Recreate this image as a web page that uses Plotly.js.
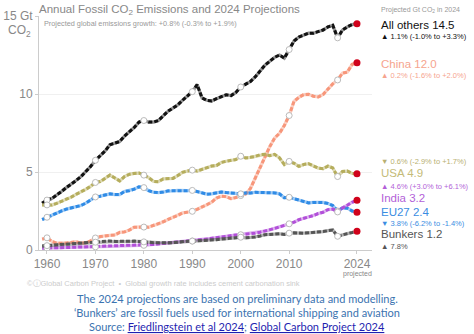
<!DOCTYPE html>
<html><head><meta charset="utf-8">
<script src="https://cdn.plot.ly/plotly-3.0.1.min.js"></script>
<style>html,body{margin:0;padding:0;background:#fff}#c{width:474px;height:334px}</style>
</head><body><div id="c"></div>
<script>
const years = [];
for (let y = 1959; y <= 2024; y++) years.push(y);

const allOthers = [3.0,3.2,3.3,3.5,3.75,4.0,4.2,4.45,4.7,5.0,5.35,5.75,6.05,6.35,6.75,6.85,6.95,7.3,7.55,7.85,8.2,8.3,8.2,8.2,8.3,8.6,8.9,9.1,9.3,9.6,9.9,10.15,10.6,9.75,9.6,9.55,9.7,9.85,9.95,9.9,10.1,10.45,10.6,10.8,11.1,11.5,11.85,12.1,12.35,12.5,12.3,12.85,13.4,13.65,13.8,13.9,13.9,14.0,14.1,14.3,14.4,13.6,14.1,14.3,14.45,14.5];
const china = [0.7,0.78,0.55,0.44,0.44,0.44,0.49,0.53,0.44,0.47,0.58,0.77,0.86,0.91,0.94,0.96,1.13,1.16,1.28,1.46,1.48,1.47,1.46,1.58,1.66,1.81,1.96,2.07,2.21,2.38,2.42,2.48,2.61,2.73,2.9,3.07,3.33,3.45,3.42,3.29,3.36,3.49,3.59,3.94,4.63,5.32,6.0,6.63,7.18,7.48,7.98,8.62,9.53,9.78,9.96,9.98,9.86,9.81,9.97,10.34,10.65,10.9,11.34,11.4,11.9,12.0];
const usa = [2.89,2.89,2.88,2.99,3.12,3.25,3.39,3.57,3.71,3.89,4.08,4.33,4.39,4.62,4.8,4.62,4.43,4.71,4.85,4.91,4.93,4.8,4.64,4.4,4.38,4.56,4.59,4.59,4.77,4.98,5.06,5.12,5.06,5.17,5.28,5.38,5.42,5.61,5.69,5.73,5.8,6.01,5.9,5.94,6.0,6.11,6.13,6.05,6.13,5.91,5.48,5.68,5.56,5.36,5.48,5.53,5.38,5.25,5.21,5.38,5.26,4.71,5.03,5.06,4.91,4.88];
const eu27 = [1.95,2.1,2.2,2.35,2.5,2.62,2.7,2.78,2.85,3.0,3.2,3.4,3.45,3.52,3.6,3.55,3.55,3.75,3.8,3.9,4.05,4.0,3.8,3.7,3.68,3.72,3.8,3.8,3.82,3.8,3.8,3.82,3.75,3.65,3.58,3.6,3.65,3.72,3.68,3.66,3.6,3.6,3.66,3.65,3.7,3.7,3.7,3.7,3.66,3.6,3.35,3.38,3.28,3.2,3.12,3.02,3.05,3.05,3.05,2.98,2.85,2.5,2.7,2.68,2.5,2.42];
const india = [0.12,0.12,0.13,0.14,0.15,0.16,0.17,0.18,0.18,0.19,0.2,0.2,0.21,0.22,0.23,0.24,0.26,0.27,0.28,0.29,0.3,0.3,0.33,0.36,0.39,0.42,0.46,0.49,0.52,0.55,0.57,0.58,0.62,0.66,0.7,0.75,0.8,0.84,0.88,0.92,0.96,0.98,1.0,1.04,1.08,1.14,1.21,1.29,1.38,1.48,1.57,1.68,1.78,1.94,2.02,2.12,2.21,2.34,2.42,2.59,2.62,2.44,2.7,2.87,3.06,3.19];
const bunkers = [0.26,0.28,0.3,0.32,0.35,0.38,0.4,0.43,0.45,0.47,0.49,0.5,0.52,0.55,0.58,0.55,0.54,0.55,0.56,0.57,0.56,0.52,0.5,0.47,0.46,0.46,0.45,0.47,0.5,0.54,0.56,0.57,0.58,0.6,0.62,0.64,0.66,0.7,0.73,0.75,0.78,0.82,0.78,0.8,0.83,0.9,0.98,1.0,1.04,1.04,1.0,1.08,1.1,1.08,1.08,1.1,1.12,1.15,1.18,1.24,1.28,0.88,0.98,1.05,1.12,1.2];

const seriesNames = ["All others","China","USA","EU27","India","Bunkers"];
const seriesValues = [allOthers, china, usa, eu27, india, bunkers];
const seriesColors = ["#111111","#f7967a","#b5ad5c","#2f8be6","#b24fd9","#555555"];
const markYears = [1960,1970,1980,1990,2000,2010,2020];

const xTickVals = [1960,1970,1980,1990,2000,2010,2024];
const xTickText = ["1960","1970","1980","1990","2000","2010","2024"];
const yTickVals = [0,5,10,15];
const yTickText = ["0","5","10","15 Gt"];

const labels = [
  {name:"All others 14.5", sub:"▲ 1.1% (-1.0% to +3.3%)", color:"#111111", subColor:"#111111", y:25, sy:36},
  {name:"China 12.0", sub:"▲ 0.2% (-1.6% to +2.0%)", color:"#f6a48e", subColor:"#f6a48e", y:64, sy:75},
  {name:"USA 4.9", sub:"▼ 0.6% (-2.9% to +1.7%)", color:"#c4bb78", subColor:"#b8b070", y:173, sy:161},
  {name:"India 3.2", sub:"▲ 4.6% (+3.0% to +6.1%)", color:"#b35fd8", subColor:"#b35fd8", y:198, sy:186},
  {name:"EU27 2.4", sub:"▼ 3.8% (-6.2% to -1.4%)", color:"#3a8de2", subColor:"#3a8de2", y:212, sy:223},
  {name:"Bunkers 1.2", sub:"▲ 7.8%", color:"#555555", subColor:"#555555", y:234, sy:246}
];

const traces = [];
seriesValues.forEach((vals, i) => {
  const c = seriesColors[i];
  traces.push({x: years, y: vals, type:"scatter", mode:"lines", line:{color:c, width:3.2}, opacity:0.45, hoverinfo:"skip", showlegend:false});
  traces.push({x: years, y: vals, type:"scatter", mode:"lines", line:{color:c, width:3, dash:"4px,2px"}, hoverinfo:"skip", showlegend:false});
  const mx = [], my = [];
  markYears.forEach(yr => { const k = years.indexOf(yr); mx.push(yr); my.push(vals[k]); });
  traces.push({x: mx, y: my, type:"scatter", mode:"markers", marker:{color:"#ffffff", size:6, line:{color:"#bbbbbb", width:1}}, hoverinfo:"skip", showlegend:false});
  traces.push({x:[2024], y:[vals[vals.length-1]], type:"scatter", mode:"markers", marker:{color:"#d0021b", size:7}, hoverinfo:"skip", showlegend:false});
});

const ann = [];
const PH = 234, PT = 16;
function py(pix){ return 1 - (pix - PT)/PH; }
function px(pix){ return (pix - 39)/333; }
ann.push({xref:"paper", yref:"paper", x:px(37), y:py(10), xanchor:"left", yanchor:"middle", showarrow:false,
  text:"Annual Fossil CO<sub>2</sub> Emissions and 2024 Projections", font:{family:"Liberation Sans, Arial", size:11.5, color:"#888888"}});
ann.push({xref:"paper", yref:"paper", x:px(42), y:py(24), xanchor:"left", yanchor:"middle", showarrow:false,
  text:"Projected global emissions growth: +0.8% (-0.3% to +1.9%)", font:{family:"Liberation Sans, Arial", size:7.3, color:"#999999"}});
ann.push({xref:"paper", yref:"paper", x:px(33), y:py(31), xanchor:"right", yanchor:"middle", showarrow:false,
  text:"CO<sub>2</sub>", font:{family:"Liberation Sans, Arial", size:12, color:"#888888"}});
ann.push({xref:"paper", yref:"paper", x:px(379), y:py(10), xanchor:"left", yanchor:"middle", showarrow:false,
  text:"Projected Gt CO<sub>2</sub> in 2024", font:{family:"Liberation Sans, Arial", size:7, color:"#999999"}});
labels.forEach(l => {
  ann.push({xref:"paper", yref:"paper", x:px(379), y:py(l.y), xanchor:"left", yanchor:"middle", showarrow:false,
    text:l.name, font:{family:"Liberation Sans, Arial", size:11.5, color:l.color}});
  ann.push({xref:"paper", yref:"paper", x:px(379), y:py(l.sy), xanchor:"left", yanchor:"middle", showarrow:false,
    text:l.sub, font:{family:"Liberation Sans, Arial", size:7.5, color:l.subColor}});
});
ann.push({xref:"paper", yref:"paper", x:px(357), y:py(274), xanchor:"center", yanchor:"middle", showarrow:false,
  text:"projected", font:{family:"Liberation Sans, Arial", size:7, color:"#888888"}});
ann.push({xref:"paper", yref:"paper", x:px(25), y:py(283), xanchor:"left", yanchor:"middle", showarrow:false,
  text:"©ⓘGlobal Carbon Project  •  Global growth rate includes cement carbonation sink", font:{family:"Liberation Sans, Arial", size:7.5, color:"#cccccc"}});
const blue = "#3b73b0";
ann.push({xref:"paper", yref:"paper", x:px(237), y:py(298), xanchor:"center", yanchor:"middle", showarrow:false,
  text:"The 2024 projections are based on preliminary data and modelling.", font:{family:"Lato, Open Sans", size:11, color:blue}});
ann.push({xref:"paper", yref:"paper", x:px(237), y:py(312), xanchor:"center", yanchor:"middle", showarrow:false,
  text:"‘Bunkers’ are fossil fuels used for international shipping and aviation", font:{family:"Lato, Open Sans", size:11, color:blue}});
ann.push({xref:"paper", yref:"paper", x:px(237), y:py(326), xanchor:"center", yanchor:"middle", showarrow:false,
  text:"Source: <span style='color:#1f1fb0;text-decoration:underline'>Friedlingstein et al 2024</span>; <span style='color:#1f1fb0;text-decoration:underline'>Global Carbon Project 2024</span>", font:{family:"Lato, Open Sans", size:11, color:blue}});

const layout = {
  width:474, height:334,
  margin:{l:39, r:102, t:16, b:84, pad:0},
  paper_bgcolor:"#ffffff", plot_bgcolor:"#ffffff",
  showlegend:false,
  xaxis:{range:[1958.35, 2027.1], tickvals:xTickVals, ticktext:xTickText, showgrid:false, zeroline:false,
    showline:true, linecolor:"#cccccc", linewidth:1, ticks:"outside", ticklen:3, tickcolor:"#cccccc",
    tickfont:{family:"Liberation Sans, Arial", size:12, color:"#888888"}, fixedrange:true},
  yaxis:{range:[0, 15], tickvals:yTickVals, ticktext:yTickText, showgrid:true, gridcolor:"#f0f0f0", zeroline:false,
    showline:true, linecolor:"#cccccc", linewidth:1, ticks:"outside", ticklen:3, tickcolor:"#cccccc",
    tickfont:{family:"Liberation Sans, Arial", size:12, color:"#888888"}, fixedrange:true},
  annotations: ann
};
Plotly.newPlot("c", traces, layout, {displayModeBar:false, staticPlot:true});
</script></body></html>
